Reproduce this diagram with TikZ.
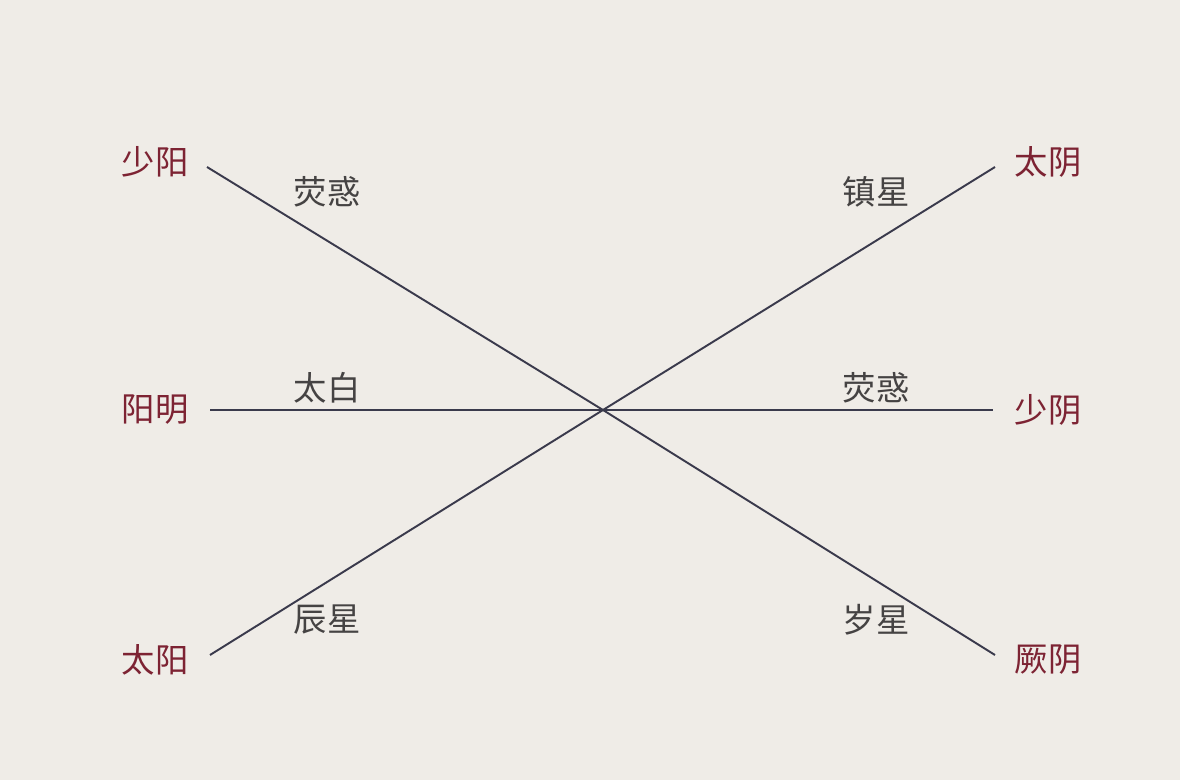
\documentclass[tikz,border=0pt]{standalone}
\usepackage{fontspec}
\newfontfamily\cjk{Noto Sans CJK SC}
\usetikzlibrary{calc}

\definecolor{BgCol}{HTML}{EFECE7}
\definecolor{YinYang}{HTML}{7D2333}
\definecolor{Star}{HTML}{454343}
\definecolor{LineCol}{HTML}{3A3A4C}

\begin{document}
\begin{tikzpicture}
	[x=0.02cm, y=-0.02cm,
	 Channel/.style={text=YinYang, font=\cjk\fontsize{19}{21}\selectfont},	%Names of the six channels
	 Planet/.style={text=Star, font=\cjk\fontsize{19}{21}\selectfont},		%Names of the planets
	 Axis/.style={draw=LineCol, line width=1.1pt}
	]
	
	\fill[BgCol] (0,0) rectangle (1180,780);		%Background
	\useasboundingbox (0,0) rectangle (1180,780);
	
	\coordinate (C) at (603,410);			%Crossing point
	\coordinate (TL) at (207,167);
	\coordinate (ML) at (210,410);
	\coordinate (BL) at (210,655);
	\coordinate (TR) at (995,167);
	\coordinate (MR) at (993,410);
	\coordinate (BR) at (995,655);
	
	\draw[Axis] (TL) -- (C) -- (BR);		%Line shaoyang - jueyin
	\draw[Axis] (BL) -- (C) -- (TR);		%Line taiyang - taiyin
	\draw[Axis] (ML) -- (C) -- (MR);		%Line yangming - shaoyin
	
	\node[Channel] (ShaoYang) at (155,162) {少阳};
	\node[Channel] (YangMing) at (155,410) {阳明};
	\node[Channel] (TaiYang) at (155,660) {太阳};
	\node[Channel] (TaiYin) at (1048,162) {太阴};
	\node[Channel] (ShaoYin) at (1048,410) {少阴};
	\node[Channel] (JueYin) at (1048,660) {厥阴};
	
	\node[Planet] (YingHuoL) at (327,192) {荧惑};
	\node[Planet] (ZhenXing) at (876,192) {镇星};
	\node[Planet] (TaiBai) at (327,388) {太白};
	\node[Planet] (YingHuoR) at (876,388) {荧惑};
	\node[Planet] (ChenXing) at (327,620) {辰星};
	\node[Planet] (SuiXing) at (876,620) {岁星};
	
\end{tikzpicture}
\end{document}
